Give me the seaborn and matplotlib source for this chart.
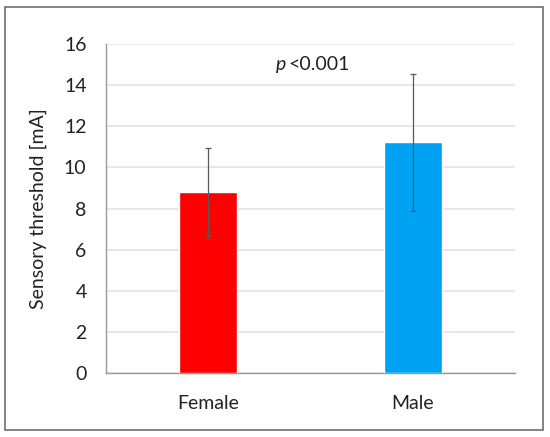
import matplotlib
matplotlib.use("Agg")
import matplotlib.pyplot as plt
import seaborn as sns
import pandas as pd
from matplotlib.patches import Rectangle

categories = ["Female", "Male"]
means = [8.79, 11.22]
errors = [2.14, 3.32]
colors = ["#FF0000", "#00A2F4"]
yticks = [0, 2, 4, 6, 8, 10, 12, 14, 16]

sns.set_style("white")
plt.rcParams["font.family"] = ["Lato", "DejaVu Sans"]

df = pd.DataFrame({"sex": categories, "value": means})

fig = plt.figure(figsize=(5.5, 4.37), dpi=100)
ax = fig.add_axes([106/550, 1-373/437, 409/550, 329/437])

sns.barplot(data=df, x="sex", y="value", hue="sex", palette=colors,
            width=0.283, legend=False, ax=ax, zorder=3, saturation=1)
ax.errorbar(range(len(categories)), means, yerr=errors, fmt="none",
            ecolor="#595959", elinewidth=0.9, capsize=2, capthick=0.9, zorder=4)

ax.set_xlim(-0.5, 1.5)
ax.set_ylim(0, 16)
ax.set_yticks(yticks)
ax.set_yticklabels([str(t) for t in yticks], fontsize=14, color="#222222")
ax.tick_params(axis="x", labelsize=14, colors="#222222", length=0, pad=16)
ax.tick_params(axis="y", length=0, pad=14)
ax.yaxis.grid(True, color="#e3e3e3", linewidth=1.2, zorder=0)
ax.set_axisbelow(True)
ax.set_xlabel("")
ax.set_ylabel("Sensory threshold [mA]", fontsize=14, color="#222222", labelpad=12)
for side in ["top", "right"]:
    ax.spines[side].set_visible(False)
for side in ["left", "bottom"]:
    ax.spines[side].set_color("#9a9a9a")
    ax.spines[side].set_linewidth(1.0)

ax.text(0.38, 15.0, "p", ha="right", va="center", fontsize=14, color="#222222",
        fontstyle="italic")
ax.text(0.39, 15.0, "<0.001", ha="left", va="center", fontsize=14, color="#222222")

fig.patches.append(Rectangle((5/550, 1-430/437), 538/550, 423/437,
                             transform=fig.transFigure, fill=False,
                             edgecolor="#6e6e6e", linewidth=1.2))

fig.savefig("out.png", dpi=100)
